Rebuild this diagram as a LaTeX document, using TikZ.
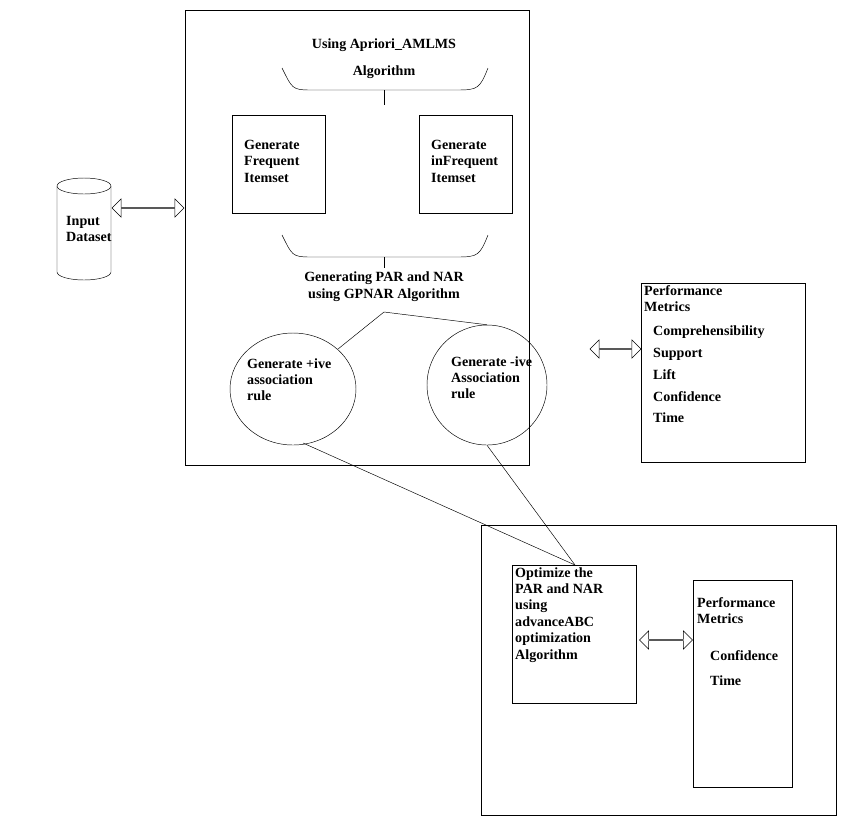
\documentclass[tikz,border=0pt]{standalone}
\usepackage{fontspec}
\setmainfont{Liberation Serif}
\usetikzlibrary{shapes.geometric,shapes.arrows,arrows.meta}
\begin{document}
\begin{tikzpicture}[x=0.03cm,y=-0.03cm,
 box/.style={draw,thin},
 txt/.style={font=\bfseries\fontsize{12}{14}\selectfont,align=left,anchor=north west,inner sep=0},
 ctxt/.style={font=\bfseries\fontsize{12}{14}\selectfont,align=center,inner sep=0},
 dbl/.style={draw,thin,double arrow,inner sep=0,minimum width=0.55cm,double arrow head extend=0.1cm,minimum height=#1*0.03cm}]
\useasboundingbox (0,0) rectangle (845,828);
\draw[box] (185,10) rectangle (529,465);
% cylinder
\draw[thin] (57,186) -- (57,272) arc[start angle=180,end angle=360,x radius=0.81cm,y radius=0.24cm] -- (111,186);
\draw[thin] (84,186) ellipse[x radius=0.81cm,y radius=0.24cm];
\node[txt] (inp) at (66,216) {Input\\Dataset};
\node[dbl=72] (a1) at (148,208) {};
% top brace
\node[ctxt] (t1) at (384,45) {Using Apriori\_AMLMS};
\node[ctxt] (t2) at (384,72) {Algorithm};
\draw (282,68) .. controls (292,88) and (292,90) .. (310,90) -- (458,90) .. controls (478,90) and (480,88) .. (488,68);
\coordinate (b1) at (384,90); \coordinate (b2) at (384,105);
\draw (b1) -- (b2);
\node[box,minimum width=93*0.03cm,minimum height=98*0.03cm] (f) at (278.5,164) {};
\node[txt] (ft) at (244,140) {Generate\\Frequent\\Itemset};
\node[box,minimum width=93*0.03cm,minimum height=98*0.03cm] (nf) at (465.5,164) {};
\node[txt] (nft) at (431,140) {Generate\\inFrequent\\Itemset};
% bottom brace
\draw (282,235) .. controls (292,255) and (292,257) .. (310,257) -- (458,257) .. controls (478,257) and (480,255) .. (488,235);
\coordinate (b3) at (384,257); \coordinate (b4) at (384,268);
\draw (b3) -- (b4);
\node[ctxt] (g1) at (384,278) {Generating PAR and NAR};
\node[ctxt] (g2) at (384,295) {using GPNAR Algorithm};
\coordinate (apex) at (384,312);
\node[draw,ellipse,minimum width=126*0.03cm,minimum height=112*0.03cm,inner sep=0] (e1) at (293,389) {};
\node[txt] (e1t) at (247,358) {Generate +ive\\association\\rule};
\node[draw,ellipse,minimum width=120*0.03cm,minimum height=120*0.03cm,inner sep=0] (e2) at (487,385) {};
\node[txt] (e2t) at (451,356) {Generate -ive\\Association\\rule};
\draw (apex) -- (e1.north east);
\draw (apex) -- (e2.north);
% perf 1
\node[box,anchor=north west,minimum width=164*0.03cm,minimum height=179*0.03cm] (p1) at (641,283) {};
\node[txt] (p1t) at (644,285) {Performance\\Metrics};
\node[txt,font=\bfseries\fontsize{12}{18.5}\selectfont] (p1l) at (653,326) {Comprehensibility\\Support\\Lift\\Confidence\\Time};
\node[dbl=51] (a2) at (615.5,349) {};
% second box
\draw[box] (481,525) rectangle (836,815);
\node[box,anchor=north west,minimum width=124*0.03cm,minimum height=138*0.03cm] (o) at (512,565) {};
\node[txt] (ot) at (515,567) {Optimize the\\PAR and NAR\\using\\advanceABC\\optimization\\Algorithm};
\node[box,anchor=north west,minimum width=99*0.03cm,minimum height=207*0.03cm] (p2) at (693,580) {};
\node[txt] (p2t) at (697,597) {Performance\\Metrics};
\node[txt,font=\bfseries\fontsize{12}{22}\selectfont] (p2l) at (710,650) {Confidence\\Time};
\node[dbl=53] (a3) at (666,640) {};
\coordinate (oj) at (575,565);
\coordinate (e1b) at (303,443);
\draw (e1b) -- (oj);
\draw (e2.south) -- (oj);
\end{tikzpicture}
\end{document}
